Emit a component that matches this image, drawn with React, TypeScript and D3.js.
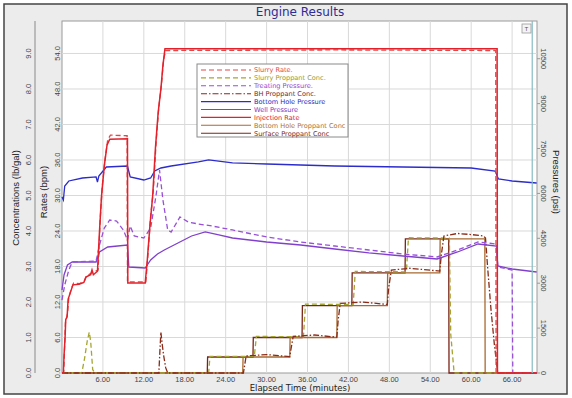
import React from "react";
import * as d3 from "d3";

type Pt = [number, number];

// tick values
const timeTicks = [6, 12, 18, 24, 30, 36, 42, 48, 54, 60, 66];
const concTicks = [0, 1, 2, 3, 4, 5, 6, 7, 8, 9];
const rateTicks = [0, 6, 12, 18, 24, 30, 36, 42, 48, 54];
const pressureTicks = [0, 1500, 3000, 4500, 6000, 7500, 9000, 10500];

// rates (bpm)
const injectionRate: Pt[] = [
  [0, 0], [0.2, 0], [0.3, 3], [0.45, 6], [0.55, 9], [0.75, 9.5], [0.9, 12.5], [1.2, 13.5],
  [1.6, 14.9], [2.5, 15], [3.2, 15.3], [3.5, 16.2], [4.2, 16.6], [4.4, 17.4], [4.6, 16.6],
  [5.2, 17.2], [5.5, 24], [5.8, 30], [6.2, 35], [6.6, 38.5], [7.0, 39.5], [9.6, 39.6],
  [9.65, 15.2], [12.2, 15.2], [12.5, 19], [12.9, 25], [13.3, 30], [13.7, 38], [14.1, 44],
  [14.5, 48], [14.8, 52], [15.1, 54.8], [63.8, 54.8], [63.85, 0], [69.6, 0],
];
const slurryRate: Pt[] = [
  [0, 0], [0.25, 0], [0.4, 5], [0.5, 8.5], [0.8, 10], [1.0, 12.8], [1.3, 14], [1.7, 15.2],
  [2.6, 15.1], [3.3, 15.6], [3.6, 16.4], [4.3, 16.9], [5.3, 17.4], [5.6, 26], [5.9, 31.5],
  [6.3, 36], [6.7, 39.4], [7.1, 40.2], [9.55, 40.1], [9.6, 15.4], [12.3, 15.4], [12.6, 20],
  [13.0, 26.5], [13.4, 31], [13.8, 39], [14.2, 45], [14.6, 49], [14.9, 53], [15.2, 54.5],
  [40, 54.6], [63.6, 54.5], [63.65, 0], [69.6, 0],
];

// pressures (psi)
const bottomHolePressure: Pt[] = [
  [0, 5880], [0.2, 5780], [0.4, 6248], [1, 6415], [3, 6515], [5, 6549], [5.2, 6381],
  [5.4, 6582], [6.5, 6883], [9.6, 6916], [10, 6549], [12, 6448], [13, 6515], [13.6, 6749],
  [14.5, 6849], [16, 6916], [20, 7050], [21.5, 7117], [25, 7017], [30, 6983], [40, 6916],
  [50, 6883], [60, 6849], [63.5, 6749], [64, 6482], [66, 6415], [69.6, 6348],
];
const wellPressure: Pt[] = [
  [0, 2773], [0.3, 3274], [0.8, 3608], [1.5, 3709], [5, 3709], [5.5, 4043], [6.7, 4210],
  [9.6, 4277], [9.8, 3541], [12.2, 3508], [13, 3775], [14, 3976], [15, 4110], [17, 4344],
  [19, 4577], [21, 4711], [23, 4611], [25, 4510], [30, 4377], [35, 4277], [40, 4143],
  [45, 4010], [50, 3909], [55, 3809], [58, 4043], [61, 4310], [63.7, 4243], [63.9, 3575],
  [66, 3475], [69.6, 3374],
];
const treatingPressure: Pt[] = [
  [0, 2439], [0.4, 2940], [1, 3441], [1.5, 3709], [5, 3742], [5.5, 4277], [6.2, 4844],
  [7, 5112], [8, 5078], [9, 4778], [9.6, 4444], [10, 4911], [10.6, 4577], [12, 4510],
  [13, 4844], [13.8, 5947], [14.3, 6782], [14.8, 5780], [15.5, 4778], [16, 4711],
  [17.3, 5212], [18.5, 5045], [20, 4978], [22, 4911], [25, 4778], [30, 4544], [35, 4377],
  [40, 4243], [45, 4110], [50, 3976], [55, 3876], [58, 4110], [61, 4377], [63.7, 4310],
  [63.9, 3541], [66, 3441], [66.1, 0], [69.6, 0],
];

// concentrations (lb/gal)
const surfaceConc: Pt[] = [
  [0, 0], [21.3, 0], [21.35, 0.45], [28, 0.45], [28.05, 1.0], [35.2, 1.0], [35.25, 1.9],
  [42.5, 1.9], [42.55, 2.82], [50.3, 2.82], [50.35, 3.78], [56.7, 3.78], [56.75, 0], [69.6, 0],
];
const bottomHoleConc: Pt[] = [
  [0, 0], [26.5, 0], [26.55, 0.45], [33.4, 0.45], [33.45, 1.0], [40.3, 1.0], [40.35, 1.9],
  [47.7, 1.9], [47.75, 2.82], [55.4, 2.82], [55.45, 3.78], [62, 3.78], [62.05, 0], [69.6, 0],
];
const slurryPropConc: Pt[] = [
  [0, 0], [2.9, 0], [3.3, 0.4], [3.7, 0.9], [4.0, 1.15], [4.2, 0.9], [4.5, 0.1], [4.8, 0],
  [21.5, 0], [21.7, 0.47], [28.2, 0.47], [28.5, 1.03], [35.4, 1.02], [35.7, 1.94],
  [42.7, 1.93], [43.0, 2.86], [50.5, 2.85], [50.8, 3.81], [56.8, 3.8], [57.0, 1.1],
  [57.5, 0], [69.6, 0],
];
const bhPropConc: Pt[] = [
  [0, 0], [14.2, 0], [14.35, 0.6], [14.5, 1.15], [14.7, 0.8], [14.9, 0.5], [15.2, 0.15],
  [15.5, 0], [26.6, 0], [27.0, 0.48], [30, 0.52], [33.4, 0.46], [33.6, 0.7], [33.9, 1.03],
  [37, 1.07], [40.3, 1.01], [40.5, 1.5], [40.8, 1.96], [44, 2.0], [47.7, 1.93], [47.9, 2.4],
  [48.3, 2.9], [51, 2.95], [55.4, 2.87], [55.6, 3.3], [56.0, 3.86], [58, 3.93], [60, 3.9],
  [61.8, 3.86], [62.1, 3.8], [62.4, 3.0], [62.9, 1.8], [63.4, 0.8], [63.9, 0], [69.6, 0],
];

const legendNames = [
  "Slurry Rate.", "Slurry Proppant Conc.", "Treating Pressure.", "BH Proppant Conc.",
  "Bottom Hole Pressure", "Well Pressure", "Injection Rate", "Bottom Hole Proppant Conc",
  "Surface Proppant Conc",
];

const plot = { left: 62, right: 537, top: 21, bottom: 373 };

const x = d3.scaleLinear().domain([0, 69.65]).range([plot.left, plot.right]);
const yConc = d3.scaleLinear().domain([0, 9.915]).range([plot.bottom, plot.top]);
const yRate = d3.scaleLinear().domain([0, 59.49]).range([plot.bottom, plot.top]);
const yPres = d3.scaleLinear().domain([0, 11760]).range([plot.bottom, plot.top]);

const series = [
  { name: legendNames[0], data: slurryRate, y: yRate, color: "#e04848", dash: "5,3", text: "#e04848" },
  { name: legendNames[1], data: slurryPropConc, y: yConc, color: "#a5a530", dash: "5,3", text: "#9a9a28" },
  { name: legendNames[2], data: treatingPressure, y: yPres, color: "#9850d8", dash: "5,3", text: "#9048d0" },
  { name: legendNames[3], data: bhPropConc, y: yConc, color: "#8a2a18", dash: "6,2,1.5,2", text: "#7a2818" },
  { name: legendNames[4], data: bottomHolePressure, y: yPres, color: "#2c2ccc", dash: "", text: "#2828c0" },
  { name: legendNames[5], data: wellPressure, y: yPres, color: "#8040cc", dash: "", text: "#8038c0" },
  { name: legendNames[6], data: injectionRate, y: yRate, color: "#e4202a", dash: "", text: "#e02020" },
  { name: legendNames[7], data: bottomHoleConc, y: yConc, color: "#a86a30", dash: "", text: "#b07030" },
  { name: legendNames[8], data: surfaceConc, y: yConc, color: "#7a2418", dash: "", text: "#802818" },
];

// draw order: concentrations under pressures under rates
const drawOrder = [8, 7, 1, 3, 4, 5, 2, 0, 6];

const tickFont = "'Liberation Sans Narrow', 'Liberation Sans', Arial, sans-serif";
const labelFont = "'DejaVu Sans', Verdana, sans-serif";

export default function App() {
  const path = (s: (typeof series)[number]) =>
    d3
      .line<Pt>()
      .x((d) => x(d[0]))
      .y((d) => s.y(d[1]))(s.data) || "";

  const legendTop = 70;
  const legendRow = 7.9;

  return (
    <svg
      width={572}
      height={398}
      style={{ position: "absolute", left: 0, top: 0, background: "#fff" }}
    >
      <rect x={4} y={4} width={563} height={390} fill="#ececec" stroke="#444" strokeWidth={1.5} />
      <text x={300} y={16} textAnchor="middle" fontFamily={labelFont} fontSize={12} fill="#2d2d96">
        Engine Results
      </text>

      <rect x={plot.left} y={plot.top} width={plot.right - plot.left} height={plot.bottom - plot.top} fill="#fff" stroke="#9a9a9a" />

      {/* grid */}
      {timeTicks.map((t) => (
        <line key={"gx" + t} x1={x(t)} x2={x(t)} y1={plot.top} y2={plot.bottom} stroke="#d9d9d9" />
      ))}
      {concTicks.slice(1).map((c) => (
        <line key={"gy" + c} x1={plot.left} x2={plot.right} y1={yConc(c)} y2={yConc(c)} stroke="#d9d9d9" />
      ))}

      {/* left axis line */}
      <line x1={35} x2={35} y1={plot.top} y2={plot.bottom} stroke="#8a8a8a" />

      {/* series */}
      {drawOrder.map((i) => {
        const s = series[i];
        return (
          <path
            key={s.name}
            d={path(s)}
            fill="none"
            stroke={s.color}
            strokeWidth={i === 6 ? 1.5 : 1.3}
            strokeDasharray={s.dash || undefined}
          />
        );
      })}

      {/* cursor line and button */}
      <line x1={x(68.95)} x2={x(68.95)} y1={plot.top} y2={plot.bottom} stroke="#86bcc4" strokeWidth={1.2} />
      <rect x={522} y={24} width={9} height={9} fill="#f4f4f4" stroke="#999" strokeWidth={0.8} />
      <text x={526.5} y={31} textAnchor="middle" fontFamily={labelFont} fontSize={5.5} fill="#555">
        T
      </text>

      {/* legend */}
      <rect x={197} y={64} width={151} height={73} fill="#fff" stroke="#8a8a8a" />
      {series.map((s, i) => {
        const yy = legendTop + i * legendRow;
        return (
          <g key={"lg" + i}>
            <line x1={201} x2={251} y1={yy} y2={yy} stroke={s.color} strokeWidth={1.1} strokeDasharray={s.dash || undefined} />
            <text x={254} y={yy + 2.3} fontFamily={labelFont} fontSize={6.6} fill={s.text}>
              {s.name}
            </text>
          </g>
        );
      })}

      {/* x axis */}
      {timeTicks.map((t) => (
        <text key={"xt" + t} x={x(t)} y={382} textAnchor="middle" fontFamily={tickFont} fontSize={7.5} fill="#444">
          {t.toFixed(2)}
        </text>
      ))}
      <text x={300} y={391} textAnchor="middle" fontFamily={labelFont} fontSize={8.5} fill="#222">
        Elapsed Time (minutes)
      </text>

      {/* concentration axis */}
      {concTicks.map((c) => (
        <text key={"ct" + c} transform={`translate(31,${yConc(c)}) rotate(-90)`} textAnchor="middle" fontFamily={tickFont} fontSize={7.5} fill="#444">
          {c.toFixed(1)}
        </text>
      ))}
      <text transform="translate(19,198) rotate(-90)" textAnchor="middle" fontFamily={tickFont} fontSize={9.5} fill="#222">
        Concentrations (lb/gal)
      </text>

      {/* rate axis */}
      {rateTicks.map((r) => (
        <text key={"rt" + r} transform={`translate(60,${yRate(r)}) rotate(-90)`} textAnchor="middle" fontFamily={tickFont} fontSize={7.5} fill="#444">
          {r.toFixed(1)}
        </text>
      ))}
      <text transform="translate(47,192) rotate(-90)" textAnchor="middle" fontFamily={tickFont} fontSize={9.5} fill="#222">
        Rates (bpm)
      </text>

      {/* pressure axis */}
      {pressureTicks.map((p) => (
        <g key={"pt" + p}>
          <line x1={plot.right} x2={plot.right + 3} y1={yPres(p)} y2={yPres(p)} stroke="#999" />
          <text transform={`translate(541,${yPres(p)}) rotate(90)`} textAnchor="middle" fontFamily={tickFont} fontSize={7.5} fill="#444">
            {p}
          </text>
        </g>
      ))}
      <text transform="translate(553,182) rotate(90)" textAnchor="middle" fontFamily={tickFont} fontSize={9.5} fill="#222">
        Pressures (psi)
      </text>
    </svg>
  );
}
